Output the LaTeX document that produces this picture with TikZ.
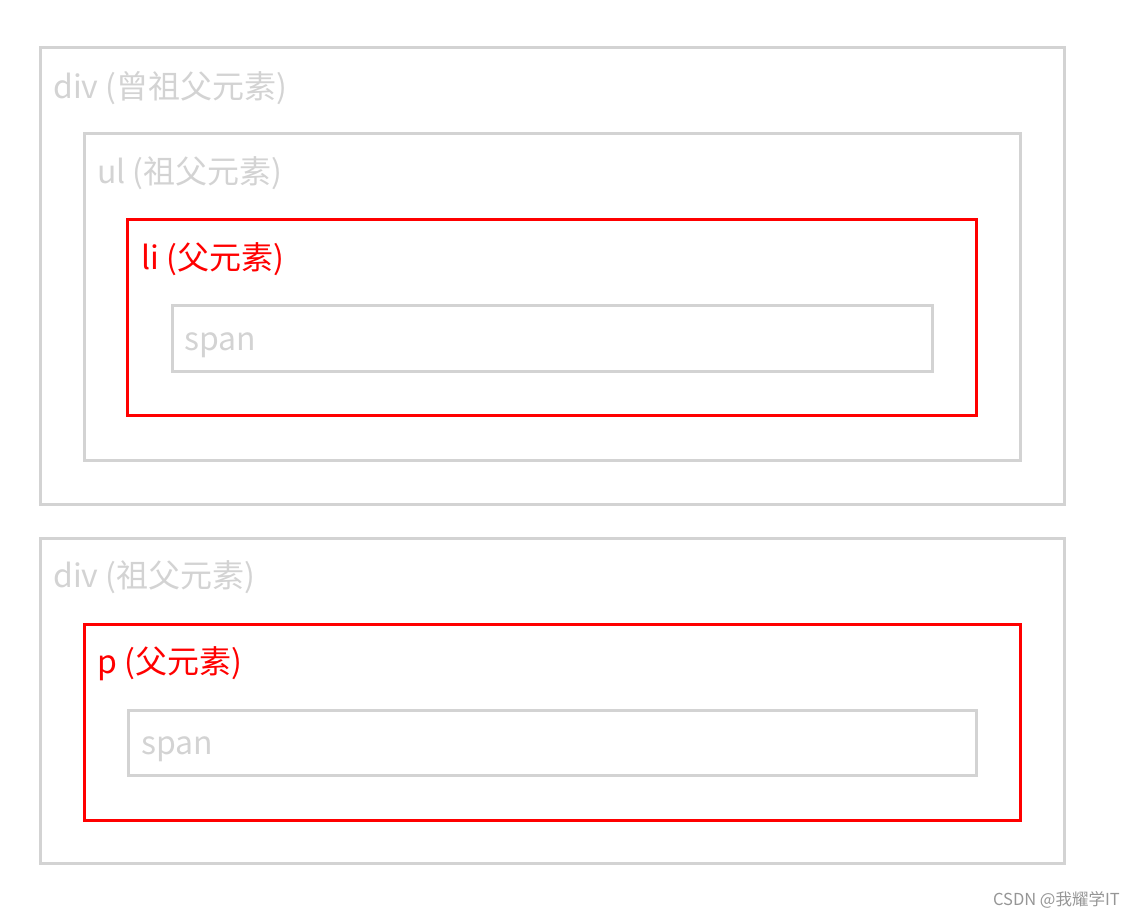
\documentclass[tikz,border=0pt]{standalone}
\usepackage{fontspec}
\setmainfont{Noto Sans CJK SC}
\definecolor{boxgray}{RGB}{211,211,211}
\definecolor{parentred}{RGB}{255,0,0}
\definecolor{markgray}{RGB}{150,150,150}
\usetikzlibrary{positioning}

\begin{document}
\begin{tikzpicture}[
    x=1pt, y=-1pt,
    elem/.style={rectangle, draw=boxgray, line width=3pt, inner sep=0pt},
    parent/.style={elem, draw=parentred},
    tag/.style={anchor=west, inner sep=0pt, text=boxgray, font=\fontsize{32pt}{38pt}\selectfont},
    redtag/.style={tag, text=parentred}
]
    \useasboundingbox (0,0) rectangle (1135,918);

    % first tree: div > ul > li > span
    \node[elem, minimum width=1024pt, minimum height=457pt] (gdiv) at (552,275.5) {};
    \node[elem, minimum width=936pt, minimum height=327pt] (ul) at (552,296.5) {};
    \node[parent, minimum width=849pt, minimum height=196pt] (li) at (551.5,317) {};
    \node[elem, minimum width=760pt, minimum height=66pt] (span1) at (552,338) {};

    \node[tag] (gdivtag) at (53,88) {div (曾祖父元素)};
    \node[tag] (ultag) at (97,173) {ul (祖父元素)};
    \node[redtag] (litag) at (141,259) {li (父元素)};
    \node[tag] (span1tag) at (184,345) {span};

    % second tree: div > p > span
    \node[elem, minimum width=1024pt, minimum height=325pt] (div) at (552,700.5) {};
    \node[parent, minimum width=936pt, minimum height=196pt] (p) at (552,722) {};
    \node[elem, minimum width=848pt, minimum height=65pt] (span2) at (552,742.5) {};

    \node[tag] (divtag) at (53,577) {div (祖父元素)};
    \node[redtag] (ptag) at (97,664) {p (父元素)};
    \node[tag] (span2tag) at (141,749) {span};

    \node[anchor=east, inner sep=0pt, text=markgray, font=\fontsize{16.5pt}{19pt}\selectfont] (mark) at (1120,900) {CSDN @我耀学IT};
\end{tikzpicture}
\end{document}
